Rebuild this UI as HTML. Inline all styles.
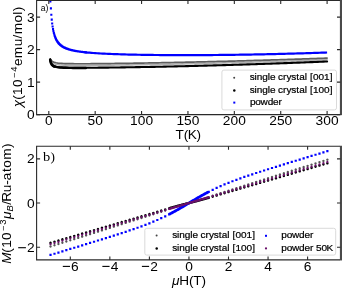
<!DOCTYPE html><html><head><meta charset="utf-8"><style>html,body{margin:0;padding:0;background:#fff;width:342px;height:288px;overflow:hidden}svg{display:block;will-change:transform;filter:blur(0.3px)}text{font-family:"Liberation Sans",sans-serif}.lg{stroke:#000;stroke-width:0.2px}</style></head><body>
<svg width="342" height="288" viewBox="0 0 342 288">
<rect width="342" height="288" fill="#fff"/>
<defs><clipPath id="ca"><rect x="36.5" y="0.5" width="304" height="114"/></clipPath><clipPath id="cb"><rect x="36.5" y="146.5" width="304" height="113"/></clipPath></defs>
<g clip-path="url(#ca)">
<path fill="none" stroke="#b0b0b0" stroke-width="1.6" stroke-linecap="round" d="M50.28 60.65 L50.38 60.83 L50.47 61.01 L50.56 61.17 L50.66 61.32 L50.75 61.46 L50.84 61.59 L50.93 61.72 L51.03 61.84 L51.12 61.95 L51.21 62.06 L51.3 62.16 L51.4 62.26 L51.49 62.35 L51.58 62.44 L51.68 62.52 L51.77 62.6 L51.86 62.68 L51.95 62.75 L52.05 62.82 L52.14 62.89 L52.23 62.95 L52.33 63.01 L52.42 63.07 L52.51 63.13 L52.6 63.18 L52.7 63.24 L52.79 63.29 L52.88 63.34 L52.97 63.38 L53.07 63.43 L53.16 63.47 L53.25 63.52 L53.35 63.56 L53.44 63.6 L53.53 63.64 L53.62 63.67 L53.72 63.71 L53.81 63.74 L53.9 63.78 L53.99 63.81 L54.09 63.84 L54.18 63.87 L54.27 63.9 L54.37 63.93 L56.22 64.38 L58.08 64.66 L59.93 64.85 L61.79 64.99 L63.64 65.09 L65.5 65.16 L67.35 65.22 L69.21 65.26 L71.06 65.29 L72.92 65.31 L74.77 65.33 L76.63 65.34 L78.49 65.35 L80.34 65.35 L82.2 65.35 L84.05 65.35 L85.91 65.34 L87.76 65.33 L89.62 65.33 L91.47 65.31 L93.33 65.3 L95.18 65.29 L97.04 65.27 L98.89 65.26 L100.75 65.24 L102.6 65.22 L104.46 65.2 L106.32 65.18 L108.17 65.16 L110.03 65.14 L111.88 65.12 L113.74 65.09 L115.59 65.07 L117.45 65.04 L119.3 65.02 L121.16 64.99 L123.01 64.97 L124.87 64.94 L126.72 64.91 L128.58 64.89 L130.43 64.86 L132.29 64.83 L134.15 64.8 L136 64.77 L137.86 64.74 L139.71 64.71 L141.57 64.68 L143.42 64.65 L145.28 64.61 L147.13 64.58 L148.99 64.55 L150.84 64.51 L152.7 64.48 L154.55 64.45 L156.41 64.41 L158.26 64.38 L160.12 64.34 L161.98 64.31 L163.83 64.27 L165.69 64.23 L167.54 64.2 L169.4 64.16 L171.25 64.12 L173.11 64.08 L174.96 64.05 L176.82 64.01 L178.67 63.97 L180.53 63.93 L182.38 63.89 L184.24 63.85 L186.09 63.81 L187.95 63.77 L189.81 63.73 L191.66 63.68 L193.52 63.64 L195.37 63.6 L197.23 63.56 L199.08 63.51 L200.94 63.47 L202.79 63.43 L204.65 63.38 L206.5 63.34 L208.36 63.29 L210.21 63.25 L212.07 63.2 L213.92 63.16 L215.78 63.11 L217.64 63.07 L219.49 63.02 L221.35 62.97 L223.2 62.92 L225.06 62.88 L226.91 62.83 L228.77 62.78 L230.62 62.73 L232.48 62.68 L234.33 62.63 L236.19 62.58 L238.04 62.53 L239.9 62.48 L241.75 62.43 L243.61 62.38 L245.47 62.33 L247.32 62.28 L249.18 62.22 L251.03 62.17 L252.89 62.12 L254.74 62.07 L256.6 62.01 L258.45 61.96 L260.31 61.9 L262.16 61.85 L264.02 61.8 L265.87 61.74 L267.73 61.68 L269.58 61.63 L271.44 61.57 L273.3 61.52 L275.15 61.46 L277.01 61.4 L278.86 61.35 L280.72 61.29 L282.57 61.23 L284.43 61.17 L286.28 61.11 L288.14 61.05 L289.99 60.99 L291.85 60.93 L293.7 60.87 L295.56 60.81 L297.41 60.75 L299.27 60.69 L301.13 60.63 L302.98 60.57 L304.84 60.51 L306.69 60.45 L308.55 60.38 L310.4 60.32 L312.26 60.26 L314.11 60.19 L315.97 60.13 L317.82 60.06 L319.68 60 L321.53 59.94 L323.39 59.87 L325.24 59.8 L327.1 59.74"/>
<path fill="none" stroke="#5e5e5e" stroke-width="1.7" stroke-linecap="round" d="M50.28 59.05 L50.38 59.23 L50.47 59.41 L50.56 59.57 L50.66 59.72 L50.75 59.86 L50.84 59.99 L50.93 60.12 L51.03 60.24 L51.12 60.35 L51.21 60.46 L51.3 60.56 L51.4 60.66 L51.49 60.75 L51.58 60.84 L51.68 60.92 L51.77 61 L51.86 61.08 L51.95 61.15 L52.05 61.22 L52.14 61.29 L52.23 61.35 L52.33 61.41 L52.42 61.47 L52.51 61.53 L52.6 61.58 L52.7 61.64 L52.79 61.69 L52.88 61.74 L52.97 61.78 L53.07 61.83 L53.16 61.87 L53.25 61.92 L53.35 61.96 L53.44 62 L53.53 62.04 L53.62 62.07 L53.72 62.11 L53.81 62.14 L53.9 62.18 L53.99 62.21 L54.09 62.24 L54.18 62.27 L54.27 62.3 L54.37 62.33 L56.22 62.78 L58.08 63.06 L59.93 63.25 L61.79 63.39 L63.64 63.49 L65.5 63.56 L67.35 63.62 L69.21 63.66 L71.06 63.69 L72.92 63.71 L74.77 63.73 L76.63 63.74 L78.49 63.75 L80.34 63.75 L82.2 63.75 L84.05 63.75 L85.91 63.74 L87.76 63.73 L89.62 63.73 L91.47 63.71 L93.33 63.7 L95.18 63.69 L97.04 63.67 L98.89 63.66 L100.75 63.64 L102.6 63.62 L104.46 63.6 L106.32 63.58 L108.17 63.56 L110.03 63.54 L111.88 63.52 L113.74 63.49 L115.59 63.47 L117.45 63.44 L119.3 63.42 L121.16 63.39 L123.01 63.37 L124.87 63.34 L126.72 63.31 L128.58 63.29 L130.43 63.26 L132.29 63.23 L134.15 63.2 L136 63.17 L137.86 63.14 L139.71 63.11 L141.57 63.08 L143.42 63.05 L145.28 63.01 L147.13 62.98 L148.99 62.95 L150.84 62.91 L152.7 62.88 L154.55 62.85 L156.41 62.81 L158.26 62.78 L160.12 62.74 L161.98 62.71 L163.83 62.67 L165.69 62.63 L167.54 62.6 L169.4 62.56 L171.25 62.52 L173.11 62.48 L174.96 62.45 L176.82 62.41 L178.67 62.37 L180.53 62.33 L182.38 62.29 L184.24 62.25 L186.09 62.21 L187.95 62.17 L189.81 62.13 L191.66 62.08 L193.52 62.04 L195.37 62 L197.23 61.96 L199.08 61.91 L200.94 61.87 L202.79 61.83 L204.65 61.78 L206.5 61.74 L208.36 61.69 L210.21 61.65 L212.07 61.6 L213.92 61.56 L215.78 61.51 L217.64 61.47 L219.49 61.42 L221.35 61.37 L223.2 61.32 L225.06 61.28 L226.91 61.23 L228.77 61.18 L230.62 61.13 L232.48 61.08 L234.33 61.03 L236.19 60.98 L238.04 60.93 L239.9 60.88 L241.75 60.83 L243.61 60.78 L245.47 60.73 L247.32 60.68 L249.18 60.62 L251.03 60.57 L252.89 60.52 L254.74 60.47 L256.6 60.41 L258.45 60.36 L260.31 60.3 L262.16 60.25 L264.02 60.2 L265.87 60.14 L267.73 60.08 L269.58 60.03 L271.44 59.97 L273.3 59.92 L275.15 59.86 L277.01 59.8 L278.86 59.75 L280.72 59.69 L282.57 59.63 L284.43 59.57 L286.28 59.51 L288.14 59.45 L289.99 59.39 L291.85 59.33 L293.7 59.27 L295.56 59.21 L297.41 59.15 L299.27 59.09 L301.13 59.03 L302.98 58.97 L304.84 58.91 L306.69 58.85 L308.55 58.78 L310.4 58.72 L312.26 58.66 L314.11 58.59 L315.97 58.53 L317.82 58.46 L319.68 58.4 L321.53 58.34 L323.39 58.27 L325.24 58.2 L327.1 58.14"/>
<path fill="none" stroke="#000" stroke-width="2.1" stroke-linecap="round" d="M50.19 59.42 L50.28 60 L50.38 60.5 L50.47 60.96 L50.56 61.36 L50.66 61.72 L50.75 62.05 L50.84 62.34 L50.93 62.61 L51.03 62.86 L51.12 63.09 L51.21 63.29 L51.3 63.49 L51.4 63.67 L51.49 63.83 L51.58 63.99 L51.68 64.13 L51.77 64.27 L51.86 64.4 L51.95 64.52 L52.05 64.63 L52.14 64.74 L52.23 64.84 L52.33 64.93 L52.42 65.02 L52.51 65.11 L52.6 65.19 L52.7 65.27 L52.79 65.34 L52.88 65.41 L52.97 65.48 L53.07 65.54 L53.16 65.6 L53.25 65.66 L53.35 65.72 L53.44 65.77 L53.53 65.82 L53.62 65.87 L53.72 65.92 L53.81 65.97 L53.9 66.01 L53.99 66.05 L54.09 66.1 L54.18 66.14 L54.27 66.17 L54.37 66.21 L56.22 66.75 L58.08 67.07 L59.93 67.27 L61.79 67.41 L63.64 67.51 L65.5 67.59 L67.35 67.64 L69.21 67.68 L71.06 67.71 L72.92 67.74 L74.77 67.75 L76.63 67.76 L78.49 67.77 L80.34 67.77 L82.2 67.77 L84.05 67.77 L85.91 67.76 L87.76 67.75 L89.62 67.74 L91.47 67.73 L93.33 67.72 L95.18 67.71 L97.04 67.69 L98.89 67.67 L100.75 67.66 L102.6 67.64 L104.46 67.62 L106.32 67.6 L108.17 67.58 L110.03 67.55 L111.88 67.53 L113.74 67.51 L115.59 67.48 L117.45 67.46 L119.3 67.43 L121.16 67.4 L123.01 67.38 L124.87 67.35 L126.72 67.32 L128.58 67.29 L130.43 67.26 L132.29 67.23 L134.15 67.2 L136 67.17 L137.86 67.14 L139.71 67.1 L141.57 67.07 L143.42 67.04 L145.28 67 L147.13 66.97 L148.99 66.93 L150.84 66.9 L152.7 66.86 L154.55 66.83 L156.41 66.79 L158.26 66.75 L160.12 66.71 L161.98 66.68 L163.83 66.64 L165.69 66.6 L167.54 66.56 L169.4 66.52 L171.25 66.48 L173.11 66.44 L174.96 66.39 L176.82 66.35 L178.67 66.31 L180.53 66.27 L182.38 66.22 L184.24 66.18 L186.09 66.13 L187.95 66.09 L189.81 66.04 L191.66 66 L193.52 65.95 L195.37 65.9 L197.23 65.86 L199.08 65.81 L200.94 65.76 L202.79 65.71 L204.65 65.66 L206.5 65.61 L208.36 65.57 L210.21 65.51 L212.07 65.46 L213.92 65.41 L215.78 65.36 L217.64 65.31 L219.49 65.26 L221.35 65.2 L223.2 65.15 L225.06 65.1 L226.91 65.04 L228.77 64.99 L230.62 64.93 L232.48 64.88 L234.33 64.82 L236.19 64.77 L238.04 64.71 L239.9 64.65 L241.75 64.59 L243.61 64.54 L245.47 64.48 L247.32 64.42 L249.18 64.36 L251.03 64.3 L252.89 64.24 L254.74 64.18 L256.6 64.12 L258.45 64.06 L260.31 63.99 L262.16 63.93 L264.02 63.87 L265.87 63.81 L267.73 63.74 L269.58 63.68 L271.44 63.61 L273.3 63.55 L275.15 63.48 L277.01 63.42 L278.86 63.35 L280.72 63.29 L282.57 63.22 L284.43 63.15 L286.28 63.08 L288.14 63.01 L289.99 62.95 L291.85 62.88 L293.7 62.81 L295.56 62.74 L297.41 62.67 L299.27 62.6 L301.13 62.52 L302.98 62.45 L304.84 62.38 L306.69 62.31 L308.55 62.24 L310.4 62.16 L312.26 62.09 L314.11 62.01 L315.97 61.94 L317.82 61.86 L319.68 61.79 L321.53 61.71 L323.39 61.64 L325.24 61.56 L327.1 61.48"/>
<path fill="none" stroke="#000" stroke-width="2.6" stroke-linecap="round" d="M50.19 59.72 L50.28 60.3 L50.38 60.8 L50.47 61.26 L50.56 61.66 L50.66 62.02 L50.75 62.35 L50.84 62.64 L50.93 62.91 L51.03 63.16 L51.12 63.39 L51.21 63.59 L51.3 63.79 L51.4 63.97 L51.49 64.13 L51.58 64.29 L51.68 64.43 L51.77 64.57 L51.86 64.7 L51.95 64.82 L52.05 64.93 L52.14 65.04 L52.23 65.14 L52.33 65.23 L52.42 65.32 L52.51 65.41 L52.6 65.49 L52.7 65.57 L52.79 65.64 L52.88 65.71 L52.97 65.78 L53.07 65.84 L53.16 65.9 L53.25 65.96 L53.35 66.02 L53.44 66.07 L53.53 66.12 L53.62 66.17 L53.72 66.22 L53.81 66.27 L53.9 66.31 L53.99 66.35 L54.09 66.4 L54.18 66.44 L54.27 66.47"/>
<path fill="none" stroke="#000" stroke-width="2.4" stroke-linecap="round" d="M53.44 65.97 L53.53 66.02 L53.62 66.07 L53.72 66.12 L53.81 66.17 L53.9 66.21 L53.99 66.25 L54.09 66.3 L54.18 66.34 L54.27 66.37 L54.37 66.41 L56.22 66.95 L58.08 67.27 L59.93 67.47 L61.79 67.61 L63.64 67.71 L65.5 67.79 L67.35 67.84 L69.21 67.88 L71.06 67.91 L72.92 67.94 L74.77 67.95 L76.63 67.96 L78.49 67.97 L80.34 67.97 L82.2 67.97 L84.05 67.97 L85.91 67.96"/>
<path fill="#0000ff" d="M49.41 -1.48h2.1v2.1h-2.1zM49.84 7.34h2.1v2.1h-2.1zM50.27 13.74h2.1v2.1h-2.1zM50.69 18.6h2.1v2.1h-2.1zM51.12 22.42h2.1v2.1h-2.1zM51.55 25.5h2.1v2.1h-2.1zM51.97 28.03h2.1v2.1h-2.1zM52.4 30.16h2.1v2.1h-2.1zM52.83 31.96h2.1v2.1h-2.1zM53.25 33.52h2.1v2.1h-2.1zM53.68 34.87h2.1v2.1h-2.1zM54.11 36.06h2.1v2.1h-2.1zM54.53 37.11h2.1v2.1h-2.1zM54.96 38.05h2.1v2.1h-2.1zM55.39 38.89h2.1v2.1h-2.1zM55.81 39.65h2.1v2.1h-2.1zM56.24 40.34h2.1v2.1h-2.1zM56.67 40.96h2.1v2.1h-2.1zM57.09 41.54h2.1v2.1h-2.1zM57.52 42.07h2.1v2.1h-2.1zM57.95 42.55h2.1v2.1h-2.1zM58.37 43h2.1v2.1h-2.1zM58.8 43.42h2.1v2.1h-2.1zM59.23 43.81h2.1v2.1h-2.1zM59.65 44.17h2.1v2.1h-2.1zM60.08 44.51h2.1v2.1h-2.1zM60.51 44.83h2.1v2.1h-2.1zM60.93 45.13h2.1v2.1h-2.1zM61.36 45.41h2.1v2.1h-2.1zM61.79 45.68h2.1v2.1h-2.1zM62.21 45.93h2.1v2.1h-2.1zM62.64 46.16h2.1v2.1h-2.1zM63.07 46.39h2.1v2.1h-2.1zM63.49 46.6h2.1v2.1h-2.1zM63.92 46.81h2.1v2.1h-2.1zM64.35 47h2.1v2.1h-2.1zM64.77 47.18h2.1v2.1h-2.1zM65.2 47.36h2.1v2.1h-2.1zM65.63 47.53h2.1v2.1h-2.1zM66.05 47.69h2.1v2.1h-2.1zM66.48 47.84h2.1v2.1h-2.1zM66.91 47.99h2.1v2.1h-2.1zM67.33 48.13h2.1v2.1h-2.1zM67.76 48.27h2.1v2.1h-2.1zM68.19 48.4h2.1v2.1h-2.1zM68.62 48.53h2.1v2.1h-2.1zM69.04 48.65h2.1v2.1h-2.1zM69.47 48.77h2.1v2.1h-2.1zM69.9 48.88h2.1v2.1h-2.1zM70.32 48.99h2.1v2.1h-2.1zM70.75 49.09h2.1v2.1h-2.1zM71.18 49.19h2.1v2.1h-2.1zM71.6 49.29h2.1v2.1h-2.1zM72.03 49.39h2.1v2.1h-2.1zM72.46 49.48h2.1v2.1h-2.1zM72.88 49.57h2.1v2.1h-2.1zM73.31 49.66h2.1v2.1h-2.1zM73.74 49.74h2.1v2.1h-2.1zM74.16 49.82h2.1v2.1h-2.1zM74.59 49.9h2.1v2.1h-2.1zM75.02 49.98h2.1v2.1h-2.1zM75.44 50.05h2.1v2.1h-2.1zM75.87 50.13h2.1v2.1h-2.1zM76.3 50.2h2.1v2.1h-2.1zM76.72 50.27h2.1v2.1h-2.1zM77.15 50.33h2.1v2.1h-2.1zM77.58 50.4h2.1v2.1h-2.1zM78 50.46h2.1v2.1h-2.1zM78.43 50.52h2.1v2.1h-2.1zM78.86 50.58h2.1v2.1h-2.1zM79.28 50.64h2.1v2.1h-2.1zM79.71 50.7h2.1v2.1h-2.1zM80.14 50.76h2.1v2.1h-2.1zM80.56 50.81h2.1v2.1h-2.1zM80.99 50.87h2.1v2.1h-2.1zM81.42 50.92h2.1v2.1h-2.1zM81.84 50.97h2.1v2.1h-2.1zM82.27 51.02h2.1v2.1h-2.1zM82.7 51.07h2.1v2.1h-2.1zM83.12 51.12h2.1v2.1h-2.1zM83.55 51.17h2.1v2.1h-2.1zM83.98 51.21h2.1v2.1h-2.1zM84.4 51.26h2.1v2.1h-2.1zM84.83 51.3h2.1v2.1h-2.1zM49.4 0.6h2v2h-2z"/>
<path fill="none" stroke="#0000ff" stroke-width="2.2" d="M84.05 52.15 L85.91 52.35 L87.76 52.54 L89.62 52.7 L91.47 52.86 L93.33 53 L95.18 53.13 L97.04 53.26 L98.89 53.37 L100.75 53.48 L102.6 53.58 L104.46 53.68 L106.32 53.77 L108.17 53.85 L110.03 53.93 L111.88 54.01 L113.74 54.08 L115.59 54.15 L117.45 54.21 L119.3 54.27 L121.16 54.33 L123.01 54.39 L124.87 54.44 L126.72 54.49 L128.58 54.54 L130.43 54.58 L132.29 54.62 L134.15 54.66 L136 54.7 L137.86 54.74 L139.71 54.77 L141.57 54.8 L143.42 54.83 L145.28 54.86 L147.13 54.89 L148.99 54.91 L150.84 54.94 L152.7 54.96 L154.55 54.98 L156.41 55 L158.26 55.02 L160.12 55.04 L161.98 55.05 L163.83 55.06 L165.69 55.08 L167.54 55.09 L169.4 55.1 L171.25 55.11 L173.11 55.12 L174.96 55.12 L176.82 55.13 L178.67 55.13 L180.53 55.13 L182.38 55.14 L184.24 55.14 L186.09 55.14 L187.95 55.14 L189.81 55.13 L191.66 55.13 L193.52 55.13 L195.37 55.12 L197.23 55.11 L199.08 55.11 L200.94 55.1 L202.79 55.09 L204.65 55.08 L206.5 55.07 L208.36 55.06 L210.21 55.04 L212.07 55.03 L213.92 55.01 L215.78 55 L217.64 54.98 L219.49 54.96 L221.35 54.95 L223.2 54.93 L225.06 54.91 L226.91 54.89 L228.77 54.86 L230.62 54.84 L232.48 54.82 L234.33 54.79 L236.19 54.77 L238.04 54.74 L239.9 54.71 L241.75 54.68 L243.61 54.66 L245.47 54.63 L247.32 54.6 L249.18 54.56 L251.03 54.53 L252.89 54.5 L254.74 54.46 L256.6 54.43 L258.45 54.39 L260.31 54.36 L262.16 54.32 L264.02 54.28 L265.87 54.24 L267.73 54.2 L269.58 54.16 L271.44 54.12 L273.3 54.08 L275.15 54.04 L277.01 53.99 L278.86 53.95 L280.72 53.9 L282.57 53.86 L284.43 53.81 L286.28 53.76 L288.14 53.71 L289.99 53.66 L291.85 53.61 L293.7 53.56 L295.56 53.51 L297.41 53.46 L299.27 53.41 L301.13 53.35 L302.98 53.3 L304.84 53.24 L306.69 53.18 L308.55 53.13 L310.4 53.07 L312.26 53.01 L314.11 52.95 L315.97 52.89 L317.82 52.83 L319.68 52.77 L321.53 52.71 L323.39 52.64 L325.24 52.58 L327.1 52.51"/>
</g>
<g clip-path="url(#cb)">
<path fill="#555" d="M50.52 245.27a1.2 1.2 0 1 0 0.01 0zM54.48 244.03a1.2 1.2 0 1 0 0.01 0zM58.43 242.79a1.2 1.2 0 1 0 0.01 0zM62.39 241.55a1.2 1.2 0 1 0 0.01 0zM66.34 240.31a1.2 1.2 0 1 0 0.01 0zM70.3 239.07a1.2 1.2 0 1 0 0.01 0zM74.25 237.83a1.2 1.2 0 1 0 0.01 0zM78.21 236.59a1.2 1.2 0 1 0 0.01 0zM82.16 235.35a1.2 1.2 0 1 0 0.01 0zM86.12 234.11a1.2 1.2 0 1 0 0.01 0zM90.07 232.87a1.2 1.2 0 1 0 0.01 0zM94.03 231.62a1.2 1.2 0 1 0 0.01 0zM97.98 230.38a1.2 1.2 0 1 0 0.01 0zM101.94 229.14a1.2 1.2 0 1 0 0.01 0zM105.89 227.9a1.2 1.2 0 1 0 0.01 0zM109.85 226.66a1.2 1.2 0 1 0 0.01 0zM113.8 225.42a1.2 1.2 0 1 0 0.01 0zM117.76 224.18a1.2 1.2 0 1 0 0.01 0zM121.71 222.94a1.2 1.2 0 1 0 0.01 0zM125.67 221.7a1.2 1.2 0 1 0 0.01 0zM129.62 220.46a1.2 1.2 0 1 0 0.01 0zM133.58 219.22a1.2 1.2 0 1 0 0.01 0zM137.53 217.98a1.2 1.2 0 1 0 0.01 0zM141.49 216.74a1.2 1.2 0 1 0 0.01 0zM145.44 215.5a1.2 1.2 0 1 0 0.01 0zM149.4 214.26a1.2 1.2 0 1 0 0.01 0zM153.35 213.02a1.2 1.2 0 1 0 0.01 0zM157.31 211.77a1.2 1.2 0 1 0 0.01 0zM161.26 210.53a1.2 1.2 0 1 0 0.01 0zM165.22 209.29a1.2 1.2 0 1 0 0.01 0zM212.68 194.41a1.2 1.2 0 1 0 0.01 0zM216.63 193.17a1.2 1.2 0 1 0 0.01 0zM220.59 191.93a1.2 1.2 0 1 0 0.01 0zM224.54 190.68a1.2 1.2 0 1 0 0.01 0zM228.5 189.44a1.2 1.2 0 1 0 0.01 0zM232.45 188.2a1.2 1.2 0 1 0 0.01 0zM236.41 186.96a1.2 1.2 0 1 0 0.01 0zM240.37 185.72a1.2 1.2 0 1 0 0.01 0zM244.32 184.48a1.2 1.2 0 1 0 0.01 0zM248.27 183.24a1.2 1.2 0 1 0 0.01 0zM252.23 182a1.2 1.2 0 1 0 0.01 0zM256.19 180.76a1.2 1.2 0 1 0 0.01 0zM260.14 179.52a1.2 1.2 0 1 0 0.01 0zM264.1 178.28a1.2 1.2 0 1 0 0.01 0zM268.05 177.04a1.2 1.2 0 1 0 0.01 0zM272 175.8a1.2 1.2 0 1 0 0.01 0zM275.96 174.56a1.2 1.2 0 1 0 0.01 0zM279.91 173.32a1.2 1.2 0 1 0 0.01 0zM283.87 172.08a1.2 1.2 0 1 0 0.01 0zM287.82 170.83a1.2 1.2 0 1 0 0.01 0zM291.78 169.59a1.2 1.2 0 1 0 0.01 0zM295.74 168.35a1.2 1.2 0 1 0 0.01 0zM299.69 167.11a1.2 1.2 0 1 0 0.01 0zM303.64 165.87a1.2 1.2 0 1 0 0.01 0zM307.6 164.63a1.2 1.2 0 1 0 0.01 0zM311.56 163.39a1.2 1.2 0 1 0 0.01 0zM315.51 162.15a1.2 1.2 0 1 0 0.01 0zM319.47 160.91a1.2 1.2 0 1 0 0.01 0zM323.42 159.67a1.2 1.2 0 1 0 0.01 0zM327.38 158.43a1.2 1.2 0 1 0 0.01 0z"/>
<path fill="#000" d="M50.52 241.58a1.25 1.25 0 1 0 0.01 0zM54.48 240.43a1.25 1.25 0 1 0 0.01 0zM58.43 239.27a1.25 1.25 0 1 0 0.01 0zM62.39 238.12a1.25 1.25 0 1 0 0.01 0zM66.34 236.97a1.25 1.25 0 1 0 0.01 0zM70.3 235.82a1.25 1.25 0 1 0 0.01 0zM74.25 234.67a1.25 1.25 0 1 0 0.01 0zM78.21 233.51a1.25 1.25 0 1 0 0.01 0zM82.16 232.36a1.25 1.25 0 1 0 0.01 0zM86.12 231.21a1.25 1.25 0 1 0 0.01 0zM90.07 230.06a1.25 1.25 0 1 0 0.01 0zM94.03 228.9a1.25 1.25 0 1 0 0.01 0zM97.98 227.75a1.25 1.25 0 1 0 0.01 0zM101.94 226.6a1.25 1.25 0 1 0 0.01 0zM105.89 225.45a1.25 1.25 0 1 0 0.01 0zM109.85 224.29a1.25 1.25 0 1 0 0.01 0zM113.8 223.14a1.25 1.25 0 1 0 0.01 0zM117.76 221.99a1.25 1.25 0 1 0 0.01 0zM121.71 220.84a1.25 1.25 0 1 0 0.01 0zM125.67 219.69a1.25 1.25 0 1 0 0.01 0zM129.62 218.53a1.25 1.25 0 1 0 0.01 0zM133.58 217.38a1.25 1.25 0 1 0 0.01 0zM137.53 216.23a1.25 1.25 0 1 0 0.01 0zM141.49 215.08a1.25 1.25 0 1 0 0.01 0zM145.44 213.93a1.25 1.25 0 1 0 0.01 0zM149.4 212.77a1.25 1.25 0 1 0 0.01 0zM153.35 211.63a1.25 1.25 0 1 0 0.01 0zM157.31 210.48a1.25 1.25 0 1 0 0.01 0zM161.26 209.33a1.25 1.25 0 1 0 0.01 0zM165.22 208.2a1.25 1.25 0 1 0 0.01 0zM212.68 195.4a1.25 1.25 0 1 0 0.01 0zM216.63 194.27a1.25 1.25 0 1 0 0.01 0zM220.59 193.12a1.25 1.25 0 1 0 0.01 0zM224.54 191.97a1.25 1.25 0 1 0 0.01 0zM228.5 190.83a1.25 1.25 0 1 0 0.01 0zM232.45 189.67a1.25 1.25 0 1 0 0.01 0zM236.41 188.52a1.25 1.25 0 1 0 0.01 0zM240.37 187.37a1.25 1.25 0 1 0 0.01 0zM244.32 186.22a1.25 1.25 0 1 0 0.01 0zM248.27 185.07a1.25 1.25 0 1 0 0.01 0zM252.23 183.91a1.25 1.25 0 1 0 0.01 0zM256.19 182.76a1.25 1.25 0 1 0 0.01 0zM260.14 181.61a1.25 1.25 0 1 0 0.01 0zM264.1 180.46a1.25 1.25 0 1 0 0.01 0zM268.05 179.31a1.25 1.25 0 1 0 0.01 0zM272 178.15a1.25 1.25 0 1 0 0.01 0zM275.96 177a1.25 1.25 0 1 0 0.01 0zM279.91 175.85a1.25 1.25 0 1 0 0.01 0zM283.87 174.7a1.25 1.25 0 1 0 0.01 0zM287.82 173.54a1.25 1.25 0 1 0 0.01 0zM291.78 172.39a1.25 1.25 0 1 0 0.01 0zM295.74 171.24a1.25 1.25 0 1 0 0.01 0zM299.69 170.09a1.25 1.25 0 1 0 0.01 0zM303.64 168.93a1.25 1.25 0 1 0 0.01 0zM307.6 167.78a1.25 1.25 0 1 0 0.01 0zM311.56 166.63a1.25 1.25 0 1 0 0.01 0zM315.51 165.48a1.25 1.25 0 1 0 0.01 0zM319.47 164.33a1.25 1.25 0 1 0 0.01 0zM323.42 163.17a1.25 1.25 0 1 0 0.01 0zM327.38 162.02a1.25 1.25 0 1 0 0.01 0zM169.17 207.07a1.25 1.25 0 1 0 0.01 0zM169.57 206.96a1.25 1.25 0 1 0 0.01 0zM169.97 206.85a1.25 1.25 0 1 0 0.01 0zM170.36 206.73a1.25 1.25 0 1 0 0.01 0zM170.76 206.62a1.25 1.25 0 1 0 0.01 0zM171.15 206.51a1.25 1.25 0 1 0 0.01 0zM171.55 206.4a1.25 1.25 0 1 0 0.01 0zM171.94 206.29a1.25 1.25 0 1 0 0.01 0zM172.34 206.18a1.25 1.25 0 1 0 0.01 0zM172.73 206.07a1.25 1.25 0 1 0 0.01 0zM173.13 205.96a1.25 1.25 0 1 0 0.01 0zM173.53 205.85a1.25 1.25 0 1 0 0.01 0zM173.92 205.74a1.25 1.25 0 1 0 0.01 0zM174.32 205.63a1.25 1.25 0 1 0 0.01 0zM174.71 205.52a1.25 1.25 0 1 0 0.01 0zM175.11 205.41a1.25 1.25 0 1 0 0.01 0zM175.5 205.3a1.25 1.25 0 1 0 0.01 0zM175.9 205.2a1.25 1.25 0 1 0 0.01 0zM176.29 205.09a1.25 1.25 0 1 0 0.01 0zM176.69 204.98a1.25 1.25 0 1 0 0.01 0zM177.08 204.87a1.25 1.25 0 1 0 0.01 0zM177.48 204.77a1.25 1.25 0 1 0 0.01 0zM177.88 204.66a1.25 1.25 0 1 0 0.01 0zM178.27 204.55a1.25 1.25 0 1 0 0.01 0zM178.67 204.45a1.25 1.25 0 1 0 0.01 0zM179.06 204.34a1.25 1.25 0 1 0 0.01 0zM179.46 204.24a1.25 1.25 0 1 0 0.01 0zM179.85 204.13a1.25 1.25 0 1 0 0.01 0zM180.25 204.03a1.25 1.25 0 1 0 0.01 0zM180.64 203.92a1.25 1.25 0 1 0 0.01 0zM181.04 203.82a1.25 1.25 0 1 0 0.01 0zM181.44 203.72a1.25 1.25 0 1 0 0.01 0zM181.83 203.61a1.25 1.25 0 1 0 0.01 0zM182.23 203.51a1.25 1.25 0 1 0 0.01 0zM182.62 203.41a1.25 1.25 0 1 0 0.01 0zM183.02 203.31a1.25 1.25 0 1 0 0.01 0zM183.41 203.2a1.25 1.25 0 1 0 0.01 0zM183.81 203.1a1.25 1.25 0 1 0 0.01 0zM184.2 203a1.25 1.25 0 1 0 0.01 0zM184.6 202.9a1.25 1.25 0 1 0 0.01 0zM185 202.8a1.25 1.25 0 1 0 0.01 0zM185.39 202.7a1.25 1.25 0 1 0 0.01 0zM185.79 202.6a1.25 1.25 0 1 0 0.01 0zM186.18 202.5a1.25 1.25 0 1 0 0.01 0zM186.58 202.4a1.25 1.25 0 1 0 0.01 0zM186.97 202.3a1.25 1.25 0 1 0 0.01 0zM187.37 202.2a1.25 1.25 0 1 0 0.01 0zM187.76 202.1a1.25 1.25 0 1 0 0.01 0zM188.16 202a1.25 1.25 0 1 0 0.01 0zM188.55 201.9a1.25 1.25 0 1 0 0.01 0zM188.95 201.8a1.25 1.25 0 1 0 0.01 0zM189.35 201.7a1.25 1.25 0 1 0 0.01 0zM189.74 201.6a1.25 1.25 0 1 0 0.01 0zM190.14 201.5a1.25 1.25 0 1 0 0.01 0zM190.53 201.4a1.25 1.25 0 1 0 0.01 0zM190.93 201.3a1.25 1.25 0 1 0 0.01 0zM191.32 201.2a1.25 1.25 0 1 0 0.01 0zM191.72 201.1a1.25 1.25 0 1 0 0.01 0zM192.11 201a1.25 1.25 0 1 0 0.01 0zM192.51 200.9a1.25 1.25 0 1 0 0.01 0zM192.91 200.8a1.25 1.25 0 1 0 0.01 0zM193.3 200.7a1.25 1.25 0 1 0 0.01 0zM193.7 200.6a1.25 1.25 0 1 0 0.01 0zM194.09 200.5a1.25 1.25 0 1 0 0.01 0zM194.49 200.4a1.25 1.25 0 1 0 0.01 0zM194.88 200.29a1.25 1.25 0 1 0 0.01 0zM195.28 200.19a1.25 1.25 0 1 0 0.01 0zM195.67 200.09a1.25 1.25 0 1 0 0.01 0zM196.07 199.99a1.25 1.25 0 1 0 0.01 0zM196.46 199.88a1.25 1.25 0 1 0 0.01 0zM196.86 199.78a1.25 1.25 0 1 0 0.01 0zM197.26 199.68a1.25 1.25 0 1 0 0.01 0zM197.65 199.57a1.25 1.25 0 1 0 0.01 0zM198.05 199.47a1.25 1.25 0 1 0 0.01 0zM198.44 199.36a1.25 1.25 0 1 0 0.01 0zM198.84 199.26a1.25 1.25 0 1 0 0.01 0zM199.23 199.15a1.25 1.25 0 1 0 0.01 0zM199.63 199.05a1.25 1.25 0 1 0 0.01 0zM200.02 198.94a1.25 1.25 0 1 0 0.01 0zM200.42 198.83a1.25 1.25 0 1 0 0.01 0zM200.82 198.73a1.25 1.25 0 1 0 0.01 0zM201.21 198.62a1.25 1.25 0 1 0 0.01 0zM201.61 198.51a1.25 1.25 0 1 0 0.01 0zM202 198.4a1.25 1.25 0 1 0 0.01 0zM202.4 198.3a1.25 1.25 0 1 0 0.01 0zM202.79 198.19a1.25 1.25 0 1 0 0.01 0zM203.19 198.08a1.25 1.25 0 1 0 0.01 0zM203.58 197.97a1.25 1.25 0 1 0 0.01 0zM203.98 197.86a1.25 1.25 0 1 0 0.01 0zM204.37 197.75a1.25 1.25 0 1 0 0.01 0zM204.77 197.64a1.25 1.25 0 1 0 0.01 0zM205.17 197.53a1.25 1.25 0 1 0 0.01 0zM205.56 197.42a1.25 1.25 0 1 0 0.01 0zM205.96 197.31a1.25 1.25 0 1 0 0.01 0zM206.35 197.2a1.25 1.25 0 1 0 0.01 0zM206.75 197.09a1.25 1.25 0 1 0 0.01 0zM207.14 196.98a1.25 1.25 0 1 0 0.01 0zM207.54 196.87a1.25 1.25 0 1 0 0.01 0zM207.93 196.75a1.25 1.25 0 1 0 0.01 0zM208.33 196.64a1.25 1.25 0 1 0 0.01 0zM208.73 196.53a1.25 1.25 0 1 0 0.01 0z"/>
<path fill="#0000ff" d="M49.42 253.82h2.2v2.2h-2.2zM53.38 252.63h2.2v2.2h-2.2zM57.33 251.43h2.2v2.2h-2.2zM61.29 250.24h2.2v2.2h-2.2zM65.24 249.04h2.2v2.2h-2.2zM69.2 247.85h2.2v2.2h-2.2zM73.15 246.65h2.2v2.2h-2.2zM77.11 245.45h2.2v2.2h-2.2zM81.06 244.25h2.2v2.2h-2.2zM85.02 243.05h2.2v2.2h-2.2zM88.97 241.84h2.2v2.2h-2.2zM92.93 240.63h2.2v2.2h-2.2zM96.88 239.42h2.2v2.2h-2.2zM100.84 238.2h2.2v2.2h-2.2zM104.79 236.98h2.2v2.2h-2.2zM108.75 235.75h2.2v2.2h-2.2zM112.7 234.51h2.2v2.2h-2.2zM116.66 233.25h2.2v2.2h-2.2zM120.61 231.98h2.2v2.2h-2.2zM124.57 230.69h2.2v2.2h-2.2zM128.53 229.37h2.2v2.2h-2.2zM132.48 228.03h2.2v2.2h-2.2zM136.43 226.64h2.2v2.2h-2.2zM140.39 225.22h2.2v2.2h-2.2zM144.34 223.74h2.2v2.2h-2.2zM148.3 222.19h2.2v2.2h-2.2zM152.25 220.58h2.2v2.2h-2.2zM156.21 218.88h2.2v2.2h-2.2zM160.16 217.09h2.2v2.2h-2.2zM164.12 215.2h2.2v2.2h-2.2zM211.58 188.7h2.2v2.2h-2.2zM215.53 186.81h2.2v2.2h-2.2zM219.49 185.02h2.2v2.2h-2.2zM223.44 183.32h2.2v2.2h-2.2zM227.4 181.71h2.2v2.2h-2.2zM231.35 180.16h2.2v2.2h-2.2zM235.31 178.68h2.2v2.2h-2.2zM239.27 177.26h2.2v2.2h-2.2zM243.22 175.87h2.2v2.2h-2.2zM247.17 174.53h2.2v2.2h-2.2zM251.13 173.21h2.2v2.2h-2.2zM255.09 171.92h2.2v2.2h-2.2zM259.04 170.65h2.2v2.2h-2.2zM263 169.39h2.2v2.2h-2.2zM266.95 168.15h2.2v2.2h-2.2zM270.9 166.92h2.2v2.2h-2.2zM274.86 165.7h2.2v2.2h-2.2zM278.81 164.48h2.2v2.2h-2.2zM282.77 163.27h2.2v2.2h-2.2zM286.72 162.06h2.2v2.2h-2.2zM290.68 160.85h2.2v2.2h-2.2zM294.63 159.65h2.2v2.2h-2.2zM298.59 158.45h2.2v2.2h-2.2zM302.54 157.25h2.2v2.2h-2.2zM306.5 156.05h2.2v2.2h-2.2zM310.45 154.86h2.2v2.2h-2.2zM314.41 153.66h2.2v2.2h-2.2zM318.37 152.47h2.2v2.2h-2.2zM322.32 151.27h2.2v2.2h-2.2zM326.27 150.08h2.2v2.2h-2.2zM168.07 213.2h2.2v2.2h-2.2zM168.47 213h2.2v2.2h-2.2zM168.87 212.79h2.2v2.2h-2.2zM169.26 212.58h2.2v2.2h-2.2zM169.66 212.38h2.2v2.2h-2.2zM170.05 212.17h2.2v2.2h-2.2zM170.45 211.96h2.2v2.2h-2.2zM170.84 211.75h2.2v2.2h-2.2zM171.24 211.53h2.2v2.2h-2.2zM171.63 211.32h2.2v2.2h-2.2zM172.03 211.11h2.2v2.2h-2.2zM172.43 210.89h2.2v2.2h-2.2zM172.82 210.67h2.2v2.2h-2.2zM173.22 210.46h2.2v2.2h-2.2zM173.61 210.24h2.2v2.2h-2.2zM174.01 210.02h2.2v2.2h-2.2zM174.4 209.8h2.2v2.2h-2.2zM174.8 209.58h2.2v2.2h-2.2zM175.19 209.36h2.2v2.2h-2.2zM175.59 209.14h2.2v2.2h-2.2zM175.98 208.91h2.2v2.2h-2.2zM176.38 208.69h2.2v2.2h-2.2zM176.78 208.46h2.2v2.2h-2.2zM177.17 208.24h2.2v2.2h-2.2zM177.57 208.01h2.2v2.2h-2.2zM177.96 207.79h2.2v2.2h-2.2zM178.36 207.56h2.2v2.2h-2.2zM178.75 207.33h2.2v2.2h-2.2zM179.15 207.1h2.2v2.2h-2.2zM179.54 206.87h2.2v2.2h-2.2zM179.94 206.64h2.2v2.2h-2.2zM180.34 206.41h2.2v2.2h-2.2zM180.73 206.18h2.2v2.2h-2.2zM181.13 205.95h2.2v2.2h-2.2zM181.52 205.71h2.2v2.2h-2.2zM181.92 205.48h2.2v2.2h-2.2zM182.31 205.25h2.2v2.2h-2.2zM182.71 205.01h2.2v2.2h-2.2zM183.1 204.78h2.2v2.2h-2.2zM183.5 204.55h2.2v2.2h-2.2zM183.9 204.31h2.2v2.2h-2.2zM184.29 204.08h2.2v2.2h-2.2zM184.69 203.84h2.2v2.2h-2.2zM185.08 203.6h2.2v2.2h-2.2zM185.48 203.37h2.2v2.2h-2.2zM185.87 203.13h2.2v2.2h-2.2zM186.27 202.9h2.2v2.2h-2.2zM186.66 202.66h2.2v2.2h-2.2zM187.06 202.42h2.2v2.2h-2.2zM187.45 202.19h2.2v2.2h-2.2zM187.85 201.95h2.2v2.2h-2.2zM188.25 201.71h2.2v2.2h-2.2zM188.64 201.48h2.2v2.2h-2.2zM189.04 201.24h2.2v2.2h-2.2zM189.43 201h2.2v2.2h-2.2zM189.83 200.77h2.2v2.2h-2.2zM190.22 200.53h2.2v2.2h-2.2zM190.62 200.3h2.2v2.2h-2.2zM191.01 200.06h2.2v2.2h-2.2zM191.41 199.82h2.2v2.2h-2.2zM191.81 199.59h2.2v2.2h-2.2zM192.2 199.35h2.2v2.2h-2.2zM192.6 199.12h2.2v2.2h-2.2zM192.99 198.89h2.2v2.2h-2.2zM193.39 198.65h2.2v2.2h-2.2zM193.78 198.42h2.2v2.2h-2.2zM194.18 198.19h2.2v2.2h-2.2zM194.57 197.95h2.2v2.2h-2.2zM194.97 197.72h2.2v2.2h-2.2zM195.36 197.49h2.2v2.2h-2.2zM195.76 197.26h2.2v2.2h-2.2zM196.16 197.03h2.2v2.2h-2.2zM196.55 196.8h2.2v2.2h-2.2zM196.95 196.57h2.2v2.2h-2.2zM197.34 196.34h2.2v2.2h-2.2zM197.74 196.11h2.2v2.2h-2.2zM198.13 195.89h2.2v2.2h-2.2zM198.53 195.66h2.2v2.2h-2.2zM198.92 195.44h2.2v2.2h-2.2zM199.32 195.21h2.2v2.2h-2.2zM199.72 194.99h2.2v2.2h-2.2zM200.11 194.76h2.2v2.2h-2.2zM200.51 194.54h2.2v2.2h-2.2zM200.9 194.32h2.2v2.2h-2.2zM201.3 194.1h2.2v2.2h-2.2zM201.69 193.88h2.2v2.2h-2.2zM202.09 193.66h2.2v2.2h-2.2zM202.48 193.44h2.2v2.2h-2.2zM202.88 193.23h2.2v2.2h-2.2zM203.27 193.01h2.2v2.2h-2.2zM203.67 192.79h2.2v2.2h-2.2zM204.07 192.58h2.2v2.2h-2.2zM204.46 192.37h2.2v2.2h-2.2zM204.86 192.15h2.2v2.2h-2.2zM205.25 191.94h2.2v2.2h-2.2zM205.65 191.73h2.2v2.2h-2.2zM206.04 191.52h2.2v2.2h-2.2zM206.44 191.32h2.2v2.2h-2.2zM206.83 191.11h2.2v2.2h-2.2zM207.23 190.9h2.2v2.2h-2.2zM207.63 190.7h2.2v2.2h-2.2z"/>
<path fill="#6a106a" d="M50.52 243a1.15 1.15 0 1 0 0.01 0zM54.48 241.83a1.15 1.15 0 1 0 0.01 0zM58.43 240.65a1.15 1.15 0 1 0 0.01 0zM62.39 239.48a1.15 1.15 0 1 0 0.01 0zM66.34 238.31a1.15 1.15 0 1 0 0.01 0zM70.3 237.13a1.15 1.15 0 1 0 0.01 0zM74.25 235.96a1.15 1.15 0 1 0 0.01 0zM78.21 234.78a1.15 1.15 0 1 0 0.01 0zM82.16 233.61a1.15 1.15 0 1 0 0.01 0zM86.12 232.43a1.15 1.15 0 1 0 0.01 0zM90.07 231.26a1.15 1.15 0 1 0 0.01 0zM94.03 230.09a1.15 1.15 0 1 0 0.01 0zM97.98 228.91a1.15 1.15 0 1 0 0.01 0zM101.94 227.74a1.15 1.15 0 1 0 0.01 0zM105.89 226.56a1.15 1.15 0 1 0 0.01 0zM109.85 225.39a1.15 1.15 0 1 0 0.01 0zM113.8 224.21a1.15 1.15 0 1 0 0.01 0zM117.76 223.04a1.15 1.15 0 1 0 0.01 0zM121.71 221.86a1.15 1.15 0 1 0 0.01 0zM125.67 220.69a1.15 1.15 0 1 0 0.01 0zM129.62 219.52a1.15 1.15 0 1 0 0.01 0zM133.58 218.34a1.15 1.15 0 1 0 0.01 0zM137.53 217.17a1.15 1.15 0 1 0 0.01 0zM141.49 215.99a1.15 1.15 0 1 0 0.01 0zM145.44 214.82a1.15 1.15 0 1 0 0.01 0zM149.4 213.64a1.15 1.15 0 1 0 0.01 0zM153.35 212.47a1.15 1.15 0 1 0 0.01 0zM157.31 211.3a1.15 1.15 0 1 0 0.01 0zM161.26 210.12a1.15 1.15 0 1 0 0.01 0zM165.22 208.95a1.15 1.15 0 1 0 0.01 0zM212.68 194.85a1.15 1.15 0 1 0 0.01 0zM216.63 193.68a1.15 1.15 0 1 0 0.01 0zM220.59 192.5a1.15 1.15 0 1 0 0.01 0zM224.54 191.33a1.15 1.15 0 1 0 0.01 0zM228.5 190.16a1.15 1.15 0 1 0 0.01 0zM232.45 188.98a1.15 1.15 0 1 0 0.01 0zM236.41 187.81a1.15 1.15 0 1 0 0.01 0zM240.37 186.63a1.15 1.15 0 1 0 0.01 0zM244.32 185.46a1.15 1.15 0 1 0 0.01 0zM248.27 184.28a1.15 1.15 0 1 0 0.01 0zM252.23 183.11a1.15 1.15 0 1 0 0.01 0zM256.19 181.94a1.15 1.15 0 1 0 0.01 0zM260.14 180.76a1.15 1.15 0 1 0 0.01 0zM264.1 179.59a1.15 1.15 0 1 0 0.01 0zM268.05 178.41a1.15 1.15 0 1 0 0.01 0zM272 177.24a1.15 1.15 0 1 0 0.01 0zM275.96 176.06a1.15 1.15 0 1 0 0.01 0zM279.91 174.89a1.15 1.15 0 1 0 0.01 0zM283.87 173.71a1.15 1.15 0 1 0 0.01 0zM287.82 172.54a1.15 1.15 0 1 0 0.01 0zM291.78 171.37a1.15 1.15 0 1 0 0.01 0zM295.74 170.19a1.15 1.15 0 1 0 0.01 0zM299.69 169.02a1.15 1.15 0 1 0 0.01 0zM303.64 167.84a1.15 1.15 0 1 0 0.01 0zM307.6 166.67a1.15 1.15 0 1 0 0.01 0zM311.56 165.49a1.15 1.15 0 1 0 0.01 0zM315.51 164.32a1.15 1.15 0 1 0 0.01 0zM319.47 163.15a1.15 1.15 0 1 0 0.01 0zM323.42 161.97a1.15 1.15 0 1 0 0.01 0zM327.38 160.8a1.15 1.15 0 1 0 0.01 0zM169.17 207.77a1.15 1.15 0 1 0 0.01 0zM169.57 207.65a1.15 1.15 0 1 0 0.01 0zM169.97 207.54a1.15 1.15 0 1 0 0.01 0zM170.36 207.42a1.15 1.15 0 1 0 0.01 0zM170.76 207.3a1.15 1.15 0 1 0 0.01 0zM171.15 207.18a1.15 1.15 0 1 0 0.01 0zM171.55 207.07a1.15 1.15 0 1 0 0.01 0zM171.94 206.95a1.15 1.15 0 1 0 0.01 0zM172.34 206.83a1.15 1.15 0 1 0 0.01 0zM172.73 206.71a1.15 1.15 0 1 0 0.01 0zM173.13 206.6a1.15 1.15 0 1 0 0.01 0zM173.53 206.48a1.15 1.15 0 1 0 0.01 0zM173.92 206.36a1.15 1.15 0 1 0 0.01 0zM174.32 206.25a1.15 1.15 0 1 0 0.01 0zM174.71 206.13a1.15 1.15 0 1 0 0.01 0zM175.11 206.01a1.15 1.15 0 1 0 0.01 0zM175.5 205.89a1.15 1.15 0 1 0 0.01 0zM175.9 205.78a1.15 1.15 0 1 0 0.01 0zM176.29 205.66a1.15 1.15 0 1 0 0.01 0zM176.69 205.54a1.15 1.15 0 1 0 0.01 0zM177.08 205.42a1.15 1.15 0 1 0 0.01 0zM177.48 205.31a1.15 1.15 0 1 0 0.01 0zM177.88 205.19a1.15 1.15 0 1 0 0.01 0zM178.27 205.07a1.15 1.15 0 1 0 0.01 0zM178.67 204.95a1.15 1.15 0 1 0 0.01 0zM179.06 204.84a1.15 1.15 0 1 0 0.01 0zM179.46 204.72a1.15 1.15 0 1 0 0.01 0zM179.85 204.6a1.15 1.15 0 1 0 0.01 0zM180.25 204.48a1.15 1.15 0 1 0 0.01 0zM180.64 204.37a1.15 1.15 0 1 0 0.01 0zM181.04 204.25a1.15 1.15 0 1 0 0.01 0zM181.44 204.13a1.15 1.15 0 1 0 0.01 0zM181.83 204.01a1.15 1.15 0 1 0 0.01 0zM182.23 203.9a1.15 1.15 0 1 0 0.01 0zM182.62 203.78a1.15 1.15 0 1 0 0.01 0zM183.02 203.66a1.15 1.15 0 1 0 0.01 0zM183.41 203.54a1.15 1.15 0 1 0 0.01 0zM183.81 203.43a1.15 1.15 0 1 0 0.01 0zM184.2 203.31a1.15 1.15 0 1 0 0.01 0zM184.6 203.19a1.15 1.15 0 1 0 0.01 0zM185 203.07a1.15 1.15 0 1 0 0.01 0zM185.39 202.96a1.15 1.15 0 1 0 0.01 0zM185.79 202.84a1.15 1.15 0 1 0 0.01 0zM186.18 202.72a1.15 1.15 0 1 0 0.01 0zM186.58 202.6a1.15 1.15 0 1 0 0.01 0zM186.97 202.49a1.15 1.15 0 1 0 0.01 0zM187.37 202.37a1.15 1.15 0 1 0 0.01 0zM187.76 202.25a1.15 1.15 0 1 0 0.01 0zM188.16 202.13a1.15 1.15 0 1 0 0.01 0zM188.55 202.02a1.15 1.15 0 1 0 0.01 0zM188.95 201.9a1.15 1.15 0 1 0 0.01 0zM189.35 201.78a1.15 1.15 0 1 0 0.01 0zM189.74 201.67a1.15 1.15 0 1 0 0.01 0zM190.14 201.55a1.15 1.15 0 1 0 0.01 0zM190.53 201.43a1.15 1.15 0 1 0 0.01 0zM190.93 201.31a1.15 1.15 0 1 0 0.01 0zM191.32 201.2a1.15 1.15 0 1 0 0.01 0zM191.72 201.08a1.15 1.15 0 1 0 0.01 0zM192.11 200.96a1.15 1.15 0 1 0 0.01 0zM192.51 200.84a1.15 1.15 0 1 0 0.01 0zM192.91 200.73a1.15 1.15 0 1 0 0.01 0zM193.3 200.61a1.15 1.15 0 1 0 0.01 0zM193.7 200.49a1.15 1.15 0 1 0 0.01 0zM194.09 200.37a1.15 1.15 0 1 0 0.01 0zM194.49 200.26a1.15 1.15 0 1 0 0.01 0zM194.88 200.14a1.15 1.15 0 1 0 0.01 0zM195.28 200.02a1.15 1.15 0 1 0 0.01 0zM195.67 199.9a1.15 1.15 0 1 0 0.01 0zM196.07 199.79a1.15 1.15 0 1 0 0.01 0zM196.46 199.67a1.15 1.15 0 1 0 0.01 0zM196.86 199.55a1.15 1.15 0 1 0 0.01 0zM197.26 199.43a1.15 1.15 0 1 0 0.01 0zM197.65 199.32a1.15 1.15 0 1 0 0.01 0zM198.05 199.2a1.15 1.15 0 1 0 0.01 0zM198.44 199.08a1.15 1.15 0 1 0 0.01 0zM198.84 198.96a1.15 1.15 0 1 0 0.01 0zM199.23 198.85a1.15 1.15 0 1 0 0.01 0zM199.63 198.73a1.15 1.15 0 1 0 0.01 0zM200.02 198.61a1.15 1.15 0 1 0 0.01 0zM200.42 198.49a1.15 1.15 0 1 0 0.01 0zM200.82 198.38a1.15 1.15 0 1 0 0.01 0zM201.21 198.26a1.15 1.15 0 1 0 0.01 0zM201.61 198.14a1.15 1.15 0 1 0 0.01 0zM202 198.02a1.15 1.15 0 1 0 0.01 0zM202.4 197.91a1.15 1.15 0 1 0 0.01 0zM202.79 197.79a1.15 1.15 0 1 0 0.01 0zM203.19 197.67a1.15 1.15 0 1 0 0.01 0zM203.58 197.55a1.15 1.15 0 1 0 0.01 0zM203.98 197.44a1.15 1.15 0 1 0 0.01 0zM204.37 197.32a1.15 1.15 0 1 0 0.01 0zM204.77 197.2a1.15 1.15 0 1 0 0.01 0zM205.17 197.09a1.15 1.15 0 1 0 0.01 0zM205.56 196.97a1.15 1.15 0 1 0 0.01 0zM205.96 196.85a1.15 1.15 0 1 0 0.01 0zM206.35 196.73a1.15 1.15 0 1 0 0.01 0zM206.75 196.62a1.15 1.15 0 1 0 0.01 0zM207.14 196.5a1.15 1.15 0 1 0 0.01 0zM207.54 196.38a1.15 1.15 0 1 0 0.01 0zM207.93 196.26a1.15 1.15 0 1 0 0.01 0zM208.33 196.15a1.15 1.15 0 1 0 0.01 0zM208.73 196.03a1.15 1.15 0 1 0 0.01 0z"/>
</g>
<rect x="339.9" y="0" width="2.1" height="115.15" fill="#4a4a4a"/><rect x="339.9" y="145.75" width="2.1" height="114.7" fill="#4a4a4a"/>
<g fill="none" stroke="#2a2a2a" stroke-width="1.1">
<path d="M340 0.4H36.6V114.6H340M340 146.3H36.6V259.9H340"/>
<path d="M48.8 114.6v-3.5M48.8 0.4v3.5M95.18 114.6v-3.5M95.18 0.4v3.5M141.57 114.6v-3.5M141.57 0.4v3.5M187.95 114.6v-3.5M187.95 0.4v3.5M234.33 114.6v-3.5M234.33 0.4v3.5M280.72 114.6v-3.5M280.72 0.4v3.5M327.1 114.6v-3.5M327.1 0.4v3.5M36.6 114.6h3.5M340.5 114.6h-3.5M36.6 82.1h3.5M340.5 82.1h-3.5M36.6 49.6h3.5M340.5 49.6h-3.5M36.6 17.1h3.5M340.5 17.1h-3.5M70.3 259.9v-3.5M70.3 146.3v3.5M109.85 259.9v-3.5M109.85 146.3v3.5M149.4 259.9v-3.5M149.4 146.3v3.5M188.95 259.9v-3.5M188.95 146.3v3.5M228.5 259.9v-3.5M228.5 146.3v3.5M268.05 259.9v-3.5M268.05 146.3v3.5M307.6 259.9v-3.5M307.6 146.3v3.5M36.6 247.2h3.5M340.5 247.2h-3.5M36.6 203.05h3.5M340.5 203.05h-3.5M36.6 158.9h3.5M340.5 158.9h-3.5"/>
</g>
<text transform="translate(48.8 125) scale(1.12 1)" text-anchor="middle" font-size="12.3">0</text>
<text transform="translate(95.18 125) scale(1.12 1)" text-anchor="middle" font-size="12.3">50</text>
<text transform="translate(141.57 125) scale(1.12 1)" text-anchor="middle" font-size="12.3">100</text>
<text transform="translate(187.95 125) scale(1.12 1)" text-anchor="middle" font-size="12.3">150</text>
<text transform="translate(234.33 125) scale(1.12 1)" text-anchor="middle" font-size="12.3">200</text>
<text transform="translate(280.72 125) scale(1.12 1)" text-anchor="middle" font-size="12.3">250</text>
<text transform="translate(327.1 125) scale(1.12 1)" text-anchor="middle" font-size="12.3">300</text>
<text transform="translate(34.6 119.1) scale(1.12 1)" text-anchor="end" font-size="12.3">0</text>
<text transform="translate(34.6 86.6) scale(1.12 1)" text-anchor="end" font-size="12.3">1</text>
<text transform="translate(34.6 54.1) scale(1.12 1)" text-anchor="end" font-size="12.3">2</text>
<text transform="translate(34.6 21.6) scale(1.12 1)" text-anchor="end" font-size="12.3">3</text>
<text transform="translate(78.75 271) scale(1.12 1)" text-anchor="end" font-size="12.3">6</text><rect x="62.8" y="265.85" width="7.2" height="1.1" fill="#000"/>
<text transform="translate(118.3 271) scale(1.12 1)" text-anchor="end" font-size="12.3">4</text><rect x="102.35" y="265.85" width="7.2" height="1.1" fill="#000"/>
<text transform="translate(157.85 271) scale(1.12 1)" text-anchor="end" font-size="12.3">2</text><rect x="141.9" y="265.85" width="7.2" height="1.1" fill="#000"/>
<text transform="translate(188.95 271) scale(1.12 1)" text-anchor="middle" font-size="12.3">0</text>
<text transform="translate(228.5 271) scale(1.12 1)" text-anchor="middle" font-size="12.3">2</text>
<text transform="translate(268.05 271) scale(1.12 1)" text-anchor="middle" font-size="12.3">4</text>
<text transform="translate(307.6 271) scale(1.12 1)" text-anchor="middle" font-size="12.3">6</text>
<text transform="translate(34.65 251.7) scale(1.12 1)" text-anchor="end" font-size="12.3">2</text><rect x="18.2" y="247.15" width="7.7" height="1.1" fill="#000"/>
<text transform="translate(34.6 207.55) scale(1.12 1)" text-anchor="end" font-size="12.3">0</text>
<text transform="translate(34.6 163.4) scale(1.12 1)" text-anchor="end" font-size="12.3">2</text>
<text transform="translate(175.96 139) scale(1.08 1)" font-size="12.6"><tspan x="-0.36" y="-0">T</tspan><tspan x="7.12" y="-0">(</tspan><tspan x="10.99" y="-0">K</tspan><tspan x="19.08" y="-0">)</tspan></text>
<text transform="translate(171.74 285) scale(1.08 1)" font-size="12.6"><tspan x="0.19" y="-0" font-style="italic">μ</tspan><tspan x="7.03" y="-0">H</tspan><tspan x="16.01" y="-0">(</tspan><tspan x="19.98" y="-0">T</tspan><tspan x="27.45" y="-0">)</tspan></text>
<text transform="translate(21.5 56.9) rotate(-90) translate(-50.25 0) scale(1.08 1)" font-size="12.6"><tspan x="-0.06" y="-0" font-style="italic">χ</tspan><tspan x="6.9" y="-0">(</tspan><tspan x="11.36" y="-0">1</tspan><tspan x="18.64" y="-0">0</tspan><tspan x="26.67" y="-4.73" font-size="8.82">−</tspan><tspan x="32.69" y="-4.73" font-size="8.82">4</tspan><tspan x="38.02" y="-0">e</tspan><tspan x="45.36" y="-0">m</tspan><tspan x="56.3" y="-0">u</tspan><tspan x="63.6" y="-0">/</tspan><tspan x="67.6" y="-0">m</tspan><tspan x="78.41" y="-0">o</tspan><tspan x="85.6" y="-0">l</tspan><tspan x="88.72" y="-0">)</tspan></text>
<text transform="translate(11.2 203.4) rotate(-90) translate(-60.07 0) scale(1.08 1)" font-size="12.6"><tspan x="-0.31" y="-0" font-style="italic">M</tspan><tspan x="10" y="-0">(</tspan><tspan x="14.46" y="-0">1</tspan><tspan x="21.74" y="-0">0</tspan><tspan x="29.77" y="-4.73" font-size="8.82">−</tspan><tspan x="35.79" y="-4.73" font-size="8.82">3</tspan><tspan x="41.29" y="-0" font-style="italic">μ</tspan><tspan x="48.18" y="2.03" font-size="8.82" font-style="italic">B</tspan><tspan x="54.36" y="-0">/</tspan><tspan x="57.26" y="-0">R</tspan><tspan x="65.9" y="-0">u</tspan><tspan x="72.99" y="-0">-</tspan><tspan x="77.15" y="-0">a</tspan><tspan x="84.65" y="-0">t</tspan><tspan x="88.64" y="-0">o</tspan><tspan x="95.96" y="-0">m</tspan><tspan x="106.91" y="-0">)</tspan></text>
<text x="40.7" y="10.6" font-size="8.6" transform="" style="font-family:'Liberation Sans',sans-serif">a)</text>
<text transform="translate(42.9 161.4) scale(1.08 1)" font-size="13.4" style="font-family:'Liberation Serif',serif">b</text>
<text transform="translate(50.6 160.7) scale(1.0 0.9)" font-size="13.4" style="font-family:'Liberation Serif',serif">)</text>
<rect x="221.9" y="70.1" width="114.6" height="39.8" rx="2" fill="#fff" fill-opacity="0.8" stroke="#d0d0d0" stroke-width="0.8"/>
<circle cx="234.2" cy="77.7" r="1.0" fill="#444"/>
<circle cx="234.3" cy="90.6" r="1.25" fill="#000"/>
<rect x="233.3" y="101.6" width="2" height="2" fill="#0000ff"/>
<text transform="translate(250 80.3) scale(1.12 1)" font-size="8.95" class="lg"><tspan x="-0.24" y="-0">s</tspan><tspan x="4.07" y="-0">i</tspan><tspan x="6.08" y="-0">n</tspan><tspan x="10.95" y="-0">g</tspan><tspan x="15.95" y="-0">l</tspan><tspan x="17.88" y="-0">e</tspan><tspan x="22.71" y="-0"> </tspan><tspan x="25.05" y="-0">c</tspan><tspan x="29.48" y="-0">r</tspan><tspan x="32.59" y="-0">y</tspan><tspan x="36.86" y="-0">s</tspan><tspan x="41.36" y="-0">t</tspan><tspan x="43.97" y="-0">a</tspan><tspan x="48.88" y="-0">l</tspan><tspan x="50.92" y="-0"> </tspan><tspan x="53.64" y="-0">[</tspan><tspan x="56.34" y="-0">0</tspan><tspan x="61.22" y="-0">0</tspan><tspan x="66.11" y="-0">1</tspan><tspan x="71.29" y="-0">]</tspan></text>
<text transform="translate(250 92.6) scale(1.12 1)" font-size="8.95" class="lg"><tspan x="-0.24" y="-0">s</tspan><tspan x="4.07" y="-0">i</tspan><tspan x="6.08" y="-0">n</tspan><tspan x="10.95" y="-0">g</tspan><tspan x="15.95" y="-0">l</tspan><tspan x="17.88" y="-0">e</tspan><tspan x="22.71" y="-0"> </tspan><tspan x="25.05" y="-0">c</tspan><tspan x="29.48" y="-0">r</tspan><tspan x="32.59" y="-0">y</tspan><tspan x="36.86" y="-0">s</tspan><tspan x="41.36" y="-0">t</tspan><tspan x="43.97" y="-0">a</tspan><tspan x="48.88" y="-0">l</tspan><tspan x="50.92" y="-0"> </tspan><tspan x="53.64" y="-0">[</tspan><tspan x="56.34" y="-0">1</tspan><tspan x="61.22" y="-0">0</tspan><tspan x="66.11" y="-0">0</tspan><tspan x="71.29" y="-0">]</tspan></text>
<text transform="translate(250 105) scale(1.12 1)" font-size="8.95" class="lg"><tspan x="-0.05" y="-0">p</tspan><tspan x="4.73" y="-0">o</tspan><tspan x="9.48" y="-0">w</tspan><tspan x="15.8" y="-0">d</tspan><tspan x="20.6" y="-0">e</tspan><tspan x="25.54" y="-0">r</tspan></text>
<rect x="144.8" y="228.3" width="190.9" height="26.8" rx="2" fill="#fff" fill-opacity="0.8" stroke="#d0d0d0" stroke-width="0.8"/>
<circle cx="156.6" cy="235.6" r="1.0" fill="#444"/>
<circle cx="156.7" cy="248.6" r="1.25" fill="#000"/>
<rect x="265" y="234.8" width="2" height="2" fill="#0000ff"/>
<circle cx="266" cy="248.4" r="1.1" fill="#6a106a"/>
<text transform="translate(172.5 238.4) scale(1.12 1)" font-size="8.95" class="lg"><tspan x="-0.24" y="-0">s</tspan><tspan x="4.07" y="-0">i</tspan><tspan x="6.08" y="-0">n</tspan><tspan x="10.95" y="-0">g</tspan><tspan x="15.95" y="-0">l</tspan><tspan x="17.88" y="-0">e</tspan><tspan x="22.71" y="-0"> </tspan><tspan x="25.05" y="-0">c</tspan><tspan x="29.48" y="-0">r</tspan><tspan x="32.59" y="-0">y</tspan><tspan x="36.86" y="-0">s</tspan><tspan x="41.36" y="-0">t</tspan><tspan x="43.97" y="-0">a</tspan><tspan x="48.88" y="-0">l</tspan><tspan x="50.92" y="-0"> </tspan><tspan x="53.64" y="-0">[</tspan><tspan x="56.34" y="-0">0</tspan><tspan x="61.22" y="-0">0</tspan><tspan x="66.11" y="-0">1</tspan><tspan x="71.29" y="-0">]</tspan></text>
<text transform="translate(172.5 250.6) scale(1.12 1)" font-size="8.95" class="lg"><tspan x="-0.24" y="-0">s</tspan><tspan x="4.07" y="-0">i</tspan><tspan x="6.08" y="-0">n</tspan><tspan x="10.95" y="-0">g</tspan><tspan x="15.95" y="-0">l</tspan><tspan x="17.88" y="-0">e</tspan><tspan x="22.71" y="-0"> </tspan><tspan x="25.05" y="-0">c</tspan><tspan x="29.48" y="-0">r</tspan><tspan x="32.59" y="-0">y</tspan><tspan x="36.86" y="-0">s</tspan><tspan x="41.36" y="-0">t</tspan><tspan x="43.97" y="-0">a</tspan><tspan x="48.88" y="-0">l</tspan><tspan x="50.92" y="-0"> </tspan><tspan x="53.64" y="-0">[</tspan><tspan x="56.34" y="-0">1</tspan><tspan x="61.22" y="-0">0</tspan><tspan x="66.11" y="-0">0</tspan><tspan x="71.29" y="-0">]</tspan></text>
<text transform="translate(281.4 238.4) scale(1.12 1)" font-size="8.95" class="lg"><tspan x="-0.05" y="-0">p</tspan><tspan x="4.73" y="-0">o</tspan><tspan x="9.48" y="-0">w</tspan><tspan x="15.8" y="-0">d</tspan><tspan x="20.6" y="-0">e</tspan><tspan x="25.54" y="-0">r</tspan></text>
<text transform="translate(281.4 250.6) scale(1.12 1)" font-size="8.95" class="lg"><tspan x="-0.05" y="-0">p</tspan><tspan x="4.73" y="-0">o</tspan><tspan x="9.48" y="-0">w</tspan><tspan x="15.8" y="-0">d</tspan><tspan x="20.6" y="-0">e</tspan><tspan x="25.54" y="-0">r</tspan><tspan x="28.58" y="-0"> </tspan><tspan x="31" y="-0">5</tspan><tspan x="35.89" y="-0">0</tspan><tspan x="40.35" y="-0">K</tspan></text>
</svg></body></html>
